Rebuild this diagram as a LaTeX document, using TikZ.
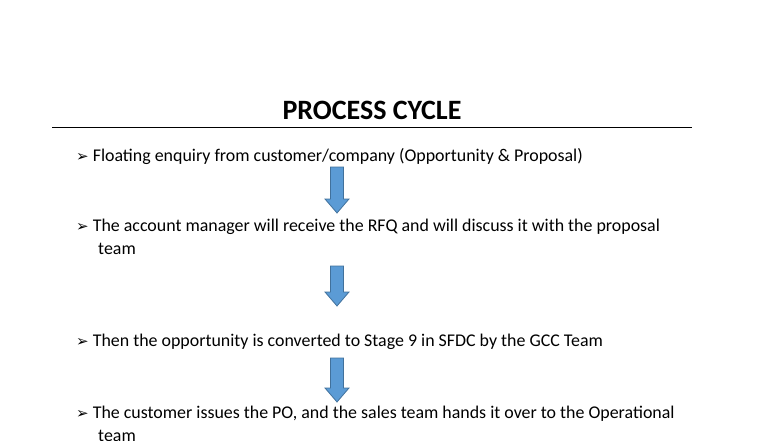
\documentclass[tikz,border=0pt]{standalone}
\usepackage{fontspec}
\setmainfont{Carlito}
\newfontfamily\symf{DejaVu Sans}
\definecolor{afill}{HTML}{5B9BD5}
\definecolor{aline}{HTML}{41719C}
\begin{document}
\begin{tikzpicture}[x=1pt,y=-1pt,
  item/.style={anchor=west,inner sep=0pt,font=\fontsize{17.9}{23}\selectfont,align=left},
  blk/.style={fill=afill,draw=aline,line width=0.8pt}]
\useasboundingbox (0,0) rectangle (784,441);
\newcommand\mydown[3]{% x, ytop, ybottom
  \draw[blk] (#1-6.5,#2) -- (#1+6.5,#2) -- (#1+6.5,#3-14) -- (#1+12,#3-14) -- (#1,#3) -- (#1-12,#3-14) -- (#1-6.5,#3-14) -- cycle;}
\newcommand\bul{{\symf\fontsize{15}{16}\selectfont ➢}}
\node[font=\bfseries\fontsize{28}{30}\selectfont,inner sep=0pt] (title) at (372,110) {PROCESS CYCLE};
\coordinate (l1) at (52,127); \coordinate (l2) at (692,127);
\draw[line width=0.6pt] (l1) -- (l2);
\node[item] (a) at (76,156) {\bul\ Floating enquiry from customer/company (Opportunity \& Proposal)};
\node[item] (b) at (76,236.5) {\bul\ The account manager will receive the RFQ and will discuss it with the proposal\\\hspace*{22pt}team};
\node[item] (c) at (76,342) {\bul\ Then the opportunity is converted to Stage 9 in SFDC by the GCC Team};
\node[item] (d) at (76,423.5) {\bul\ The customer issues the PO, and the sales team hands it over to the Operational\\\hspace*{22pt}team};
\mydown{337}{167}{213}
\mydown{337}{266}{306}
\mydown{337}{358}{402}
\end{tikzpicture}
\end{document}
